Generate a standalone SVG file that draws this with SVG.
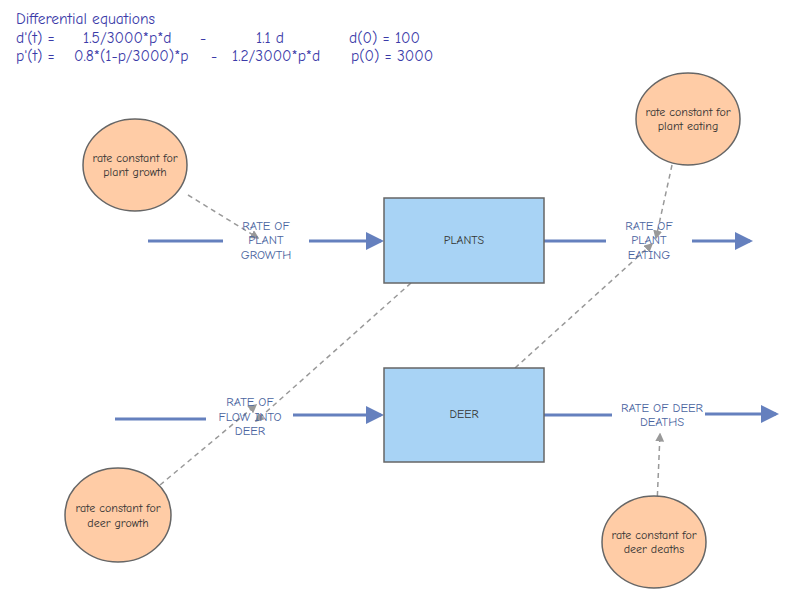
<svg xmlns="http://www.w3.org/2000/svg" width="800" height="591" viewBox="0 0 800 591">
<style>
text{font-family:"Comic Neue","Liberation Sans",sans-serif}
.eq{font-size:15.5px;fill:#3a3aa8}
.lbl{font-size:12.5px;fill:#4a64a0;text-anchor:middle}
.nt{font-size:12px;fill:#333;text-anchor:middle}
.c{fill:#ffcca6;stroke:#666;stroke-width:1.5}
.b{fill:#a8d3f5;stroke:#666;stroke-width:1.5}
.f{stroke:#6580be;stroke-width:3;fill:none}
.d{stroke:#999;stroke-width:1.5;stroke-dasharray:5,4;fill:none}
</style>
<defs>
<marker id="fa" markerWidth="6" markerHeight="6" refX="5" refY="3" orient="auto" markerUnits="strokeWidth"><path d="M0,0L6,3L0,6z" fill="#6580be"/></marker>
<marker id="da" markerWidth="6" markerHeight="6" refX="5" refY="3" orient="auto" markerUnits="strokeWidth"><path d="M0,0L6,3L0,6z" fill="#999"/></marker>
</defs>
<g id="equations">
<text class="eq" x="16" y="24">Differential equations</text>
<text class="eq" x="16" y="43">d'(t) =</text><text class="eq" x="83" y="43">1.5/3000*p*d</text><text class="eq" x="200" y="43">-</text><text class="eq" x="256" y="43">1.1 d</text><text class="eq" x="349" y="43">d(0) = 100</text>
<text class="eq" x="16" y="61">p'(t) =</text><text class="eq" x="74" y="61">0.8*(1-p/3000)*p</text><text class="eq" x="211" y="61">-</text><text class="eq" x="232" y="61">1.2/3000*p*d</text><text class="eq" x="351" y="61">p(0) = 3000</text>
</g>
<g id="connectors">
<path class="f" d="M148,241H223"/><path class="f" d="M309,241H381" marker-end="url(#fa)"/>
<path class="f" d="M544,241H606"/><path class="f" d="M692,241H750" marker-end="url(#fa)"/>
<path class="f" d="M115,419H206"/><path class="f" d="M293,415H381" marker-end="url(#fa)"/>
<path class="f" d="M544,415H612"/><path class="f" d="M705,414H776" marker-end="url(#fa)"/>
<path class="d" d="M188,195L258,238" marker-end="url(#da)"/>
<path class="d" d="M411,283L256,421" marker-end="url(#da)"/>
<path class="d" d="M160,485L256,405" marker-end="url(#da)"/>
<path class="d" d="M515,368L652,244" marker-end="url(#da)"/>
<path class="d" d="M672,165L656,238" marker-end="url(#da)"/>
<path class="d" d="M657,505L660,434" marker-end="url(#da)"/>
</g>
<g id="rate-plant-growth"><text class="lbl" x="266" y="230">RATE OF</text><text class="lbl" x="266" y="244">PLANT</text><text class="lbl" x="266" y="259">GROWTH</text></g>
<g id="rate-plant-eating"><text class="lbl" x="649" y="230">RATE OF</text><text class="lbl" x="649" y="244">PLANT</text><text class="lbl" x="649" y="259">EATING</text></g>
<g id="rate-flow-deer"><text class="lbl" x="250" y="406">RATE OF</text><text class="lbl" x="250" y="421">FLOW INTO</text><text class="lbl" x="250" y="435">DEER</text></g>
<g id="rate-deer-deaths"><text class="lbl" x="662" y="412">RATE OF DEER</text><text class="lbl" x="662" y="426">DEATHS</text></g>
<g id="plants"><rect class="b" x="384" y="198" width="160" height="85"/><text class="nt" x="464" y="244">PLANTS</text></g>
<g id="deer"><rect class="b" x="384" y="368" width="160" height="94"/><text class="nt" x="464" y="418">DEER</text></g>
<g id="k-plant-growth"><ellipse class="c" cx="135" cy="165" rx="52" ry="46"/><text class="nt" x="135" y="162">rate constant for</text><text class="nt" x="135" y="176">plant growth</text></g>
<g id="k-plant-eating"><ellipse class="c" cx="688" cy="119" rx="52" ry="46"/><text class="nt" x="688" y="116">rate constant for</text><text class="nt" x="688" y="130">plant eating</text></g>
<g id="k-deer-growth"><ellipse class="c" cx="118" cy="515" rx="53" ry="47"/><text class="nt" x="118" y="512">rate constant for</text><text class="nt" x="118" y="527">deer growth</text></g>
<g id="k-deer-deaths"><ellipse class="c" cx="654" cy="542" rx="52" ry="46"/><text class="nt" x="654" y="539">rate constant for</text><text class="nt" x="654" y="553">deer deaths</text></g>
</svg>
